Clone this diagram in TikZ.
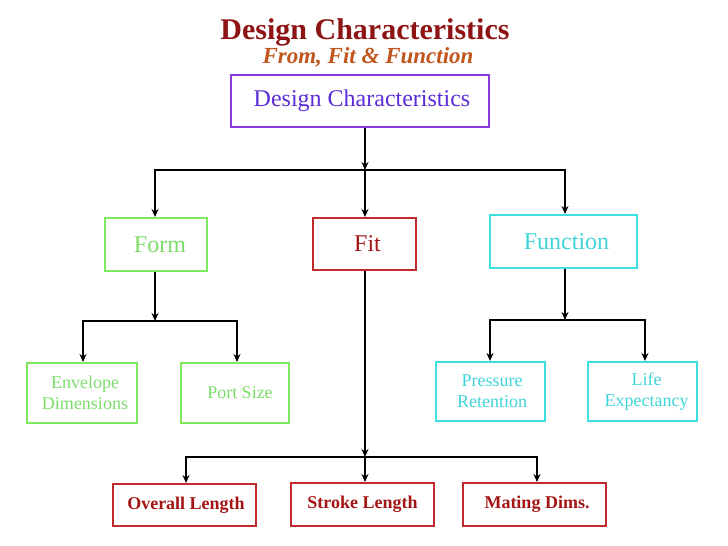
\documentclass[tikz,border=0pt]{standalone}
\usepackage{fontspec}
\setmainfont{Liberation Serif}
\usetikzlibrary{arrows.meta}
\definecolor{titlered}{HTML}{8E1414}
\definecolor{suborange}{HTML}{C0561E}
\definecolor{purp}{HTML}{8A3AE0}
\definecolor{purptext}{HTML}{5B2CD6}
\definecolor{grn}{HTML}{7EEB5E}
\definecolor{grntext}{HTML}{7CDC6A}
\definecolor{cyn}{HTML}{3CE2E2}
\definecolor{cyntext}{HTML}{3ED4D8}
\definecolor{redbox}{HTML}{C22A2E}
\definecolor{redtext}{HTML}{A31414}
\tikzset{
  x=1pt, y=-1pt,
  box/.style={draw=#1, line width=2pt, inner sep=0pt, align=center},
  big/.style={font=\fontsize{24}{28}\selectfont},
  small/.style={font=\fontsize{18}{21}\selectfont},
  smallbold/.style={font=\fontsize{18}{21}\selectfont\bfseries},
  arr/.style={line width=1.8pt, -{Stealth[length=8pt,width=7pt]}},
}
\begin{document}
\begin{tikzpicture}
\useasboundingbox (0,0) rectangle (728,546);
% titles
\node[font=\fontsize{30}{34}\selectfont\bfseries, text=titlered] (title) at (365,32) {Design Characteristics};
\node[font=\fontsize{23}{26}\selectfont\bfseries\itshape, text=suborange] (subtitle) at (368,57) {From, Fit \& Function};
% top box
\node[box=purp, minimum width=258pt, minimum height=52pt, text=purptext, big] (dc) at (360,101) {\hspace{4pt}Design Characteristics};
% level 2
\node[box=grn, minimum width=102pt, minimum height=53pt, text=grntext, big] (form) at (156,244.5) {\hspace{8pt}Form};
\node[box=redbox, minimum width=103pt, minimum height=52pt, text=redtext, big] (fit) at (364.5,244) {\hspace{6pt}Fit};
\node[box=cyn, minimum width=147pt, minimum height=53pt, text=cyntext, big] (func) at (563.5,241.5) {\hspace{6pt}Function};
% level 3 form
\node[box=grn, minimum width=110pt, minimum height=60pt, text=grntext, small] (env) at (82,393) {\hspace{6pt}Envelope\\\hspace{6pt}Dimensions};
\node[box=grn, minimum width=108pt, minimum height=60pt, text=grntext, small] (port) at (235,393) {\hspace{10pt}Port Size};
% level 3 function
\node[box=cyn, minimum width=109pt, minimum height=59pt, text=cyntext, small] (press) at (490.5,391.5) {\hspace{3pt}Pressure\\\hspace{3pt}Retention};
\node[box=cyn, minimum width=109pt, minimum height=59pt, text=cyntext, small] (life) at (642.5,391.5) {\hspace{8pt}Life\\\hspace{8pt}Expectancy};
% level 3 fit
\node[box=redbox, minimum width=143pt, minimum height=42pt, text=redtext, smallbold] (overall) at (184.5,505) {\hspace{3pt}Overall Length};
\node[box=redbox, minimum width=143pt, minimum height=43pt, text=redtext, smallbold] (stroke) at (362.5,504.5) {Stroke Length};
\node[box=redbox, minimum width=143pt, minimum height=43pt, text=redtext, smallbold] (mating) at (534.5,504.5) {\hspace{5pt}Mating Dims.};
% junctions
\coordinate (j1) at (365,170);
\coordinate (j2) at (155,321);
\coordinate (j3) at (565,320);
\coordinate (j4) at (365,457);
% connectors
\draw[arr] (dc.south -| j1) -- (j1);
\draw[arr] (j1) -| (form.north -| j2);
\draw[arr] (j1) -- (fit.north -| j1);
\draw[arr] (j1) -| (func.north -| j3);
\draw[arr] (form.south -| j2) -- (j2);
\draw[arr] (j2) -| (env.north -| 83,0);
\draw[arr] (j2) -| (port.north -| 237,0);
\draw[arr] (func.south -| j3) -- (j3);
\draw[arr] (j3) -| (press.north -| 490,0);
\draw[arr] (j3) -| (life.north -| 645,0);
\draw[arr] (fit.south -| j4) -- (j4);
\draw[arr] (j4) -| (overall.north -| 186,0);
\draw[arr] (j4) -- (stroke.north -| j4);
\draw[arr] (j4) -| (mating.north -| 537,0);
\end{tikzpicture}
\end{document}
